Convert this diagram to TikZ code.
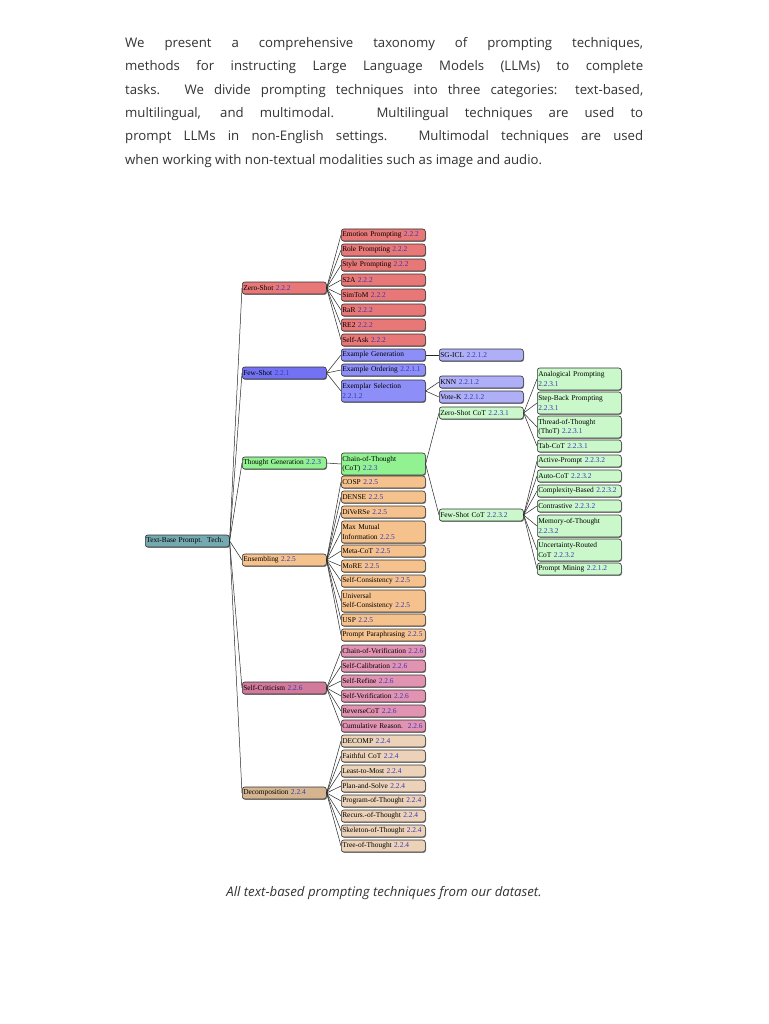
\documentclass[tikz,border=0pt]{standalone}
\usepackage{fontspec}
\setmainfont{Liberation Serif}
\newfontfamily\osans{Open Sans}
\usetikzlibrary{shadows}
\definecolor{num}{HTML}{3535B5}
\definecolor{cRoot}{HTML}{74A9B0}
\definecolor{cZero}{HTML}{E87878}
\definecolor{cFewA}{HTML}{7272F2}
\definecolor{cFewB}{HTML}{8E8EF8}
\definecolor{cFewC}{HTML}{AFAFF8}
\definecolor{cTG}{HTML}{92F292}
\definecolor{cTGL}{HTML}{CAF8CA}
\definecolor{cEns}{HTML}{F5C28E}
\definecolor{cSCA}{HTML}{D27A9A}
\definecolor{cSCB}{HTML}{E293B2}
\definecolor{cDecA}{HTML}{D4B590}
\definecolor{cDecB}{HTML}{EBD2B8}
\definecolor{txt}{HTML}{333333}
\newcommand{\nm}[1]{{\color{num}#1}}
\newcommand{\bx}[5]{\node[box,fill=#4] (#1) at (#2,#3) {#5};}
\begin{document}
\begin{tikzpicture}[x=1pt,y=-1pt,
  box/.style={draw=black!80,line width=0.6pt,rounded corners=2.5pt,anchor=west,
    minimum width=84pt,minimum height=12pt,text width=82pt,align=left,inner sep=1pt,
    font=\fontsize{7.4}{9.2}\selectfont,
    drop shadow={shadow xshift=0.7pt,shadow yshift=-0.9pt,fill=black!45,opacity=1}},
  ed/.style={line width=0.5pt,black!85}]
\useasboundingbox (0,0) rectangle (768,1024);
\fill[white] (0,0) rectangle (768,1024);
\node[anchor=north west,text width=518pt,align=justify,inner sep=0pt,text=txt,
  font=\osans\fontsize{13.2}{23.4}\selectfont] (para) at (125,37)
{We present a comprehensive taxonomy of prompting techniques,\linebreak
methods for instructing Large Language Models (LLMs) to complete\linebreak
tasks. We divide prompting techniques into three categories: text-based,\linebreak
multilingual, and multimodal. Multilingual techniques are used to\linebreak
prompt LLMs in non-English settings. Multimodal techniques are used\linebreak
when working with non-textual modalities such as image and audio.};
\node[text=txt,font=\osans\itshape\fontsize{13.2}{16}\selectfont] (cap) at (384,893)
{All text-based prompting techniques from our dataset.};
% edges drawn first (behind boxes)
\coordinate (dummy) at (0,0);
% root
\bx{root}{145}{541}{cRoot}{Text-Base Prompt.\ \ Tech.}
% level 2
\bx{zs}{242}{288}{cZero}{Zero-Shot \nm{2.2.2}}
\bx{fs}{242}{373}{cFewA}{Few-Shot \nm{2.2.1}}
\bx{tg}{242}{463}{cTG}{Thought Generation \nm{2.2.3}}
\bx{en}{242}{560}{cEns}{Ensembling \nm{2.2.5}}
\bx{sc}{242}{688}{cSCA}{Self-Criticism \nm{2.2.6}}
\bx{de}{242}{793}{cDecA}{Decomposition \nm{2.2.4}}
% zero-shot children
\bx{z1}{341}{235}{cZero}{Emotion Prompting \nm{2.2.2}}
\bx{z2}{341}{250}{cZero}{Role Prompting \nm{2.2.2}}
\bx{z3}{341}{265}{cZero}{Style Prompting \nm{2.2.2}}
\bx{z4}{341}{280}{cZero}{S2A \nm{2.2.2}}
\bx{z5}{341}{295}{cZero}{SimToM \nm{2.2.2}}
\bx{z6}{341}{310}{cZero}{RaR \nm{2.2.2}}
\bx{z7}{341}{325}{cZero}{RE2 \nm{2.2.2}}
\bx{z8}{341}{340}{cZero}{Self-Ask \nm{2.2.2}}
% few-shot
\bx{f1}{341}{355}{cFewB}{Example Generation}
\bx{f2}{341}{370}{cFewB}{Example Ordering \nm{2.2.1.1}}
\node[box,fill=cFewB,minimum height=22pt] (f3) at (341,391) {Exemplar Selection\\\nm{2.2.1.2}};
\bx{g1}{439}{355}{cFewC}{SG-ICL \nm{2.2.1.2}}
\bx{g2}{439}{382}{cFewC}{KNN \nm{2.2.1.2}}
\bx{g3}{439}{397}{cFewC}{Vote-K \nm{2.2.1.2}}
% thought generation
\node[box,fill=cTG,minimum height=22pt] (cot) at (341,464) {Chain-of-Thought\\(CoT) \nm{2.2.3}};
\bx{zc}{439}{413}{cTGL}{Zero-Shot CoT \nm{2.2.3.1}}
\bx{fc}{439}{515}{cTGL}{Few-Shot CoT \nm{2.2.3.2}}
\node[box,fill=cTGL,minimum height=22pt] (a1) at (537,379) {Analogical Prompting\\\nm{2.2.3.1}};
\node[box,fill=cTGL,minimum height=22pt] (a2) at (537,403) {Step-Back Prompting\\\nm{2.2.3.1}};
\node[box,fill=cTGL,minimum height=22pt] (a3) at (537,427) {Thread-of-Thought\\(ThoT) \nm{2.2.3.1}};
\bx{a4}{537}{446}{cTGL}{Tab-CoT \nm{2.2.3.1}}
\bx{b1}{537}{461}{cTGL}{Active-Prompt \nm{2.2.3.2}}
\bx{b2}{537}{476}{cTGL}{Auto-CoT \nm{2.2.3.2}}
\bx{b3}{537}{491}{cTGL}{Complexity-Based \nm{2.2.3.2}}
\bx{b4}{537}{506}{cTGL}{Contrastive \nm{2.2.3.2}}
\node[box,fill=cTGL,minimum height=22pt] (b5) at (537,526) {Memory-of-Thought\\\nm{2.2.3.2}};
\node[box,fill=cTGL,minimum height=22pt] (b6) at (537,550) {Uncertainty-Routed\\CoT \nm{2.2.3.2}};
\bx{b7}{537}{569}{cTGL}{Prompt Mining \nm{2.2.1.2}}
% ensembling
\bx{e1}{341}{482}{cEns}{COSP \nm{2.2.5}}
\bx{e2}{341}{497}{cEns}{DENSE \nm{2.2.5}}
\bx{e3}{341}{512}{cEns}{DiVeRSe \nm{2.2.5}}
\node[box,fill=cEns,minimum height=22pt] (e4) at (341,532) {Max Mutual\\Information \nm{2.2.5}};
\bx{e5}{341}{551}{cEns}{Meta-CoT \nm{2.2.5}}
\bx{e6}{341}{566}{cEns}{MoRE \nm{2.2.5}}
\bx{e7}{341}{581}{cEns}{Self-Consistency \nm{2.2.5}}
\node[box,fill=cEns,minimum height=22pt] (e8) at (341,601) {Universal\\Self-Consistency \nm{2.2.5}};
\bx{e9}{341}{620}{cEns}{USP \nm{2.2.5}}
\bx{e10}{341}{635}{cEns}{Prompt Paraphrasing \nm{2.2.5}}
% self-criticism
\bx{s1}{341}{651}{cSCB}{Chain-of-Verification \nm{2.2.6}}
\bx{s2}{341}{666}{cSCB}{Self-Calibration \nm{2.2.6}}
\bx{s3}{341}{681}{cSCB}{Self-Refine \nm{2.2.6}}
\bx{s4}{341}{696}{cSCB}{Self-Verification \nm{2.2.6}}
\bx{s5}{341}{711}{cSCB}{ReverseCoT \nm{2.2.6}}
\bx{s6}{341}{726}{cSCB}{Cumulative Reason.\ \ \nm{2.2.6}}
% decomposition
\bx{d1}{341}{741}{cDecB}{DECOMP \nm{2.2.4}}
\bx{d2}{341}{756}{cDecB}{Faithful CoT \nm{2.2.4}}
\bx{d3}{341}{771}{cDecB}{Least-to-Most \nm{2.2.4}}
\bx{d4}{341}{786}{cDecB}{Plan-and-Solve \nm{2.2.4}}
\bx{d5}{341}{801}{cDecB}{Program-of-Thought \nm{2.2.4}}
\bx{d6}{341}{816}{cDecB}{Recurs.-of-Thought \nm{2.2.4}}
\bx{d7}{341}{831}{cDecB}{Skeleton-of-Thought \nm{2.2.4}}
\bx{d8}{341}{846}{cDecB}{Tree-of-Thought \nm{2.2.4}}
% edges
\foreach \c in {zs,fs,tg,en,sc,de} \draw[ed] (root.east) -- (\c.west);
\foreach \c in {z1,z2,z3,z4,z5,z6,z7,z8} \draw[ed] (zs.east) -- (\c.west);
\foreach \c in {f1,f2,f3} \draw[ed] (fs.east) -- (\c.west);
\draw[ed] (f1.east) -- (g1.west);
\foreach \c in {g2,g3} \draw[ed] (f3.east) -- (\c.west);
\draw[ed] (tg.east) -- (cot.west);
\foreach \c in {zc,fc} \draw[ed] (cot.east) -- (\c.west);
\foreach \c in {a1,a2,a3,a4} \draw[ed] (zc.east) -- (\c.west);
\foreach \c in {b1,b2,b3,b4,b5,b6,b7} \draw[ed] (fc.east) -- (\c.west);
\foreach \c in {e1,e2,e3,e4,e5,e6,e7,e8,e9,e10} \draw[ed] (en.east) -- (\c.west);
\foreach \c in {s1,s2,s3,s4,s5,s6} \draw[ed] (sc.east) -- (\c.west);
\foreach \c in {d1,d2,d3,d4,d5,d6,d7,d8} \draw[ed] (de.east) -- (\c.west);
\end{tikzpicture}
\end{document}
